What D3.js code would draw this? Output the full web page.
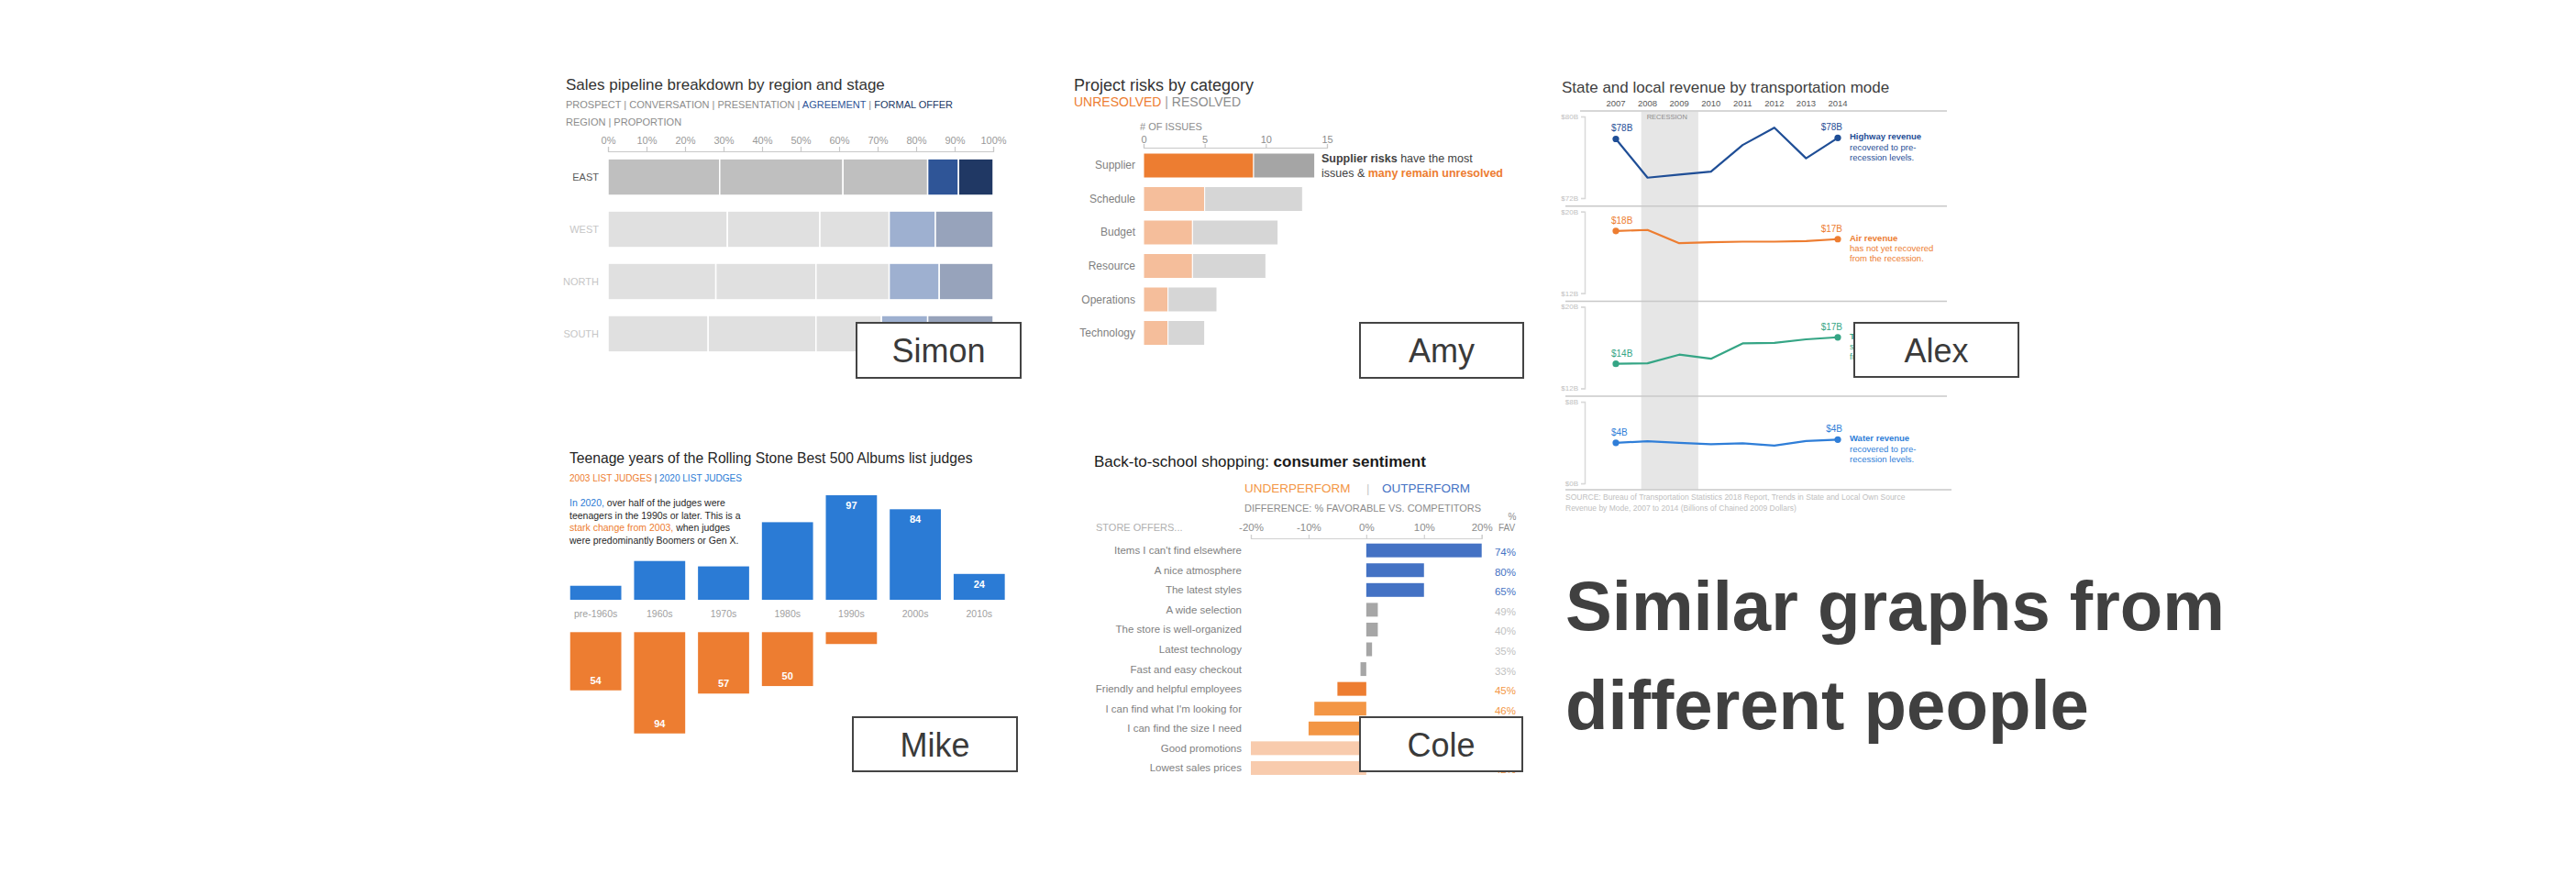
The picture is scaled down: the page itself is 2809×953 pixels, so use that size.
<!DOCTYPE html>
<html lang="en">
<head>
<meta charset="UTF-8">
<title>Similar graphs from different people</title>
<script src="https://d3js.org/d3.v7.min.js"></script>
<style>
  html, body { margin: 0; padding: 0; background: #fff; }
  svg { display: block; }
  text { font-family: "Liberation Sans", Arial, sans-serif; white-space: pre; }
</style>
</head>
<body>
<svg id="chart" width="2809" height="953"></svg>
<script>
// ---- Simon: sales pipeline by region and stage (% of pipeline)
const regions = ['EAST', 'WEST', 'NORTH', 'SOUTH'];
const stages = ['PROSPECT', 'CONVERSATION', 'PRESENTATION', 'AGREEMENT', 'FORMAL OFFER'];
const stageShares = [
  [29, 32, 22, 8, 9],
  [31, 24, 18, 12, 15],
  [28, 26, 19, 13, 14],
  [26, 28, 17, 12, 17]
];
const pctTicks = [0, 10, 20, 30, 40, 50, 60, 70, 80, 90, 100];

// ---- Amy: project risks
const riskCategories = ['Supplier', 'Schedule', 'Budget', 'Resource', 'Operations', 'Technology'];
const unresolved = [9, 5, 4, 4, 2, 2];
const resolved = [5, 8, 7, 6, 4, 3];
const issueTicks = [0, 5, 10, 15];

// ---- Alex: revenue by transportation mode ($B)
const years = [2007, 2008, 2009, 2010, 2011, 2012, 2013, 2014];
const highway = [77.8, 74.0, 74.3, 74.6, 77.2, 78.9, 75.9, 77.9];
const air = [18.1, 18.2, 16.9, 17.0, 17.05, 17.05, 17.1, 17.3];
const transit = [14.4, 14.45, 15.3, 14.9, 16.4, 16.45, 16.8, 17.0];
const water = [3.98, 4.13, 3.98, 3.84, 3.93, 3.71, 4.16, 4.29];
const recession = [2007.8, 2009.6];

// ---- Mike: teenage decade of list judges
const decades = ['pre-1960s', '1960s', '1970s', '1980s', '1990s', '2000s', '2010s'];
const judges2020 = [13, 36, 31, 72, 97, 84, 24];
const judges2003 = [54, 94, 57, 50, 11, 0, 0];
const show2020 = [0, 0, 0, 0, 1, 1, 1];
const show2003 = [1, 1, 1, 1, 0, 0, 0];

// ---- Cole: back-to-school sentiment
const storeOffers = ["Items I can't find elsewhere", 'A nice atmosphere', 'The latest styles',
  'A wide selection', 'The store is well-organized', 'Latest technology', 'Fast and easy checkout',
  'Friendly and helpful employees', "I can find what I'm looking for", 'I can find the size I need',
  'Good promotions', 'Lowest sales prices'];
const favDiff = [20, 10, 10, 2, 2, 1, -1, -5, -9, -10, -20, -20];
const favPct = ['74%', '80%', '65%', '49%', '40%', '35%', '33%', '45%', '46%', '41%', '43%', '42%'];
const favGroup = ['out', 'out', 'out', 'mid', 'mid', 'mid', 'mid', 'under', 'under2', 'under2', 'under3', 'under3'];
const diffTicks = [-20, -10, 0, 10, 20];

const people = ['Simon', 'Amy', 'Alex', 'Mike', 'Cole'];

const svg = d3.select('#chart');

// multi-style text line: parts = [[text, color, weight], ...]
function richText(g, x, y, size, parts) {
  const t = g.append('text').attr('x', x).attr('y', y).attr('font-size', size);
  parts.forEach(p => t.append('tspan').text(p[0]).attr('fill', p[1]).attr('font-weight', p[2] || 'normal'));
  return t;
}

// shrink font-size until the text is no wider than maxW
function fitText(t, maxW) {
  const w = t.node().getComputedTextLength();
  if (w > maxW) {
    const fs = parseFloat(t.attr('font-size'));
    t.attr('font-size', (fs * maxW / w).toFixed(2));
  }
  return t;
}

function styleAxis(g, color, size, lineColor) {
  g.select('.domain').attr('stroke', lineColor).attr('stroke-width', 1.2);
  g.selectAll('.tick line').attr('stroke', lineColor).attr('stroke-width', 1.2);
  g.selectAll('.tick text').attr('fill', color).attr('font-size', size)
    .attr('font-family', '"Liberation Sans", Arial, sans-serif');
}

// ================= Simon =================
(function () {
  const g = svg.append('g');
  g.append('text').attr('x', 617).attr('y', 98).attr('font-size', 17).attr('fill', '#333')
    .text('Sales pipeline breakdown by region and stage');
  const stageColors = ['#8c8c8c', '#8c8c8c', '#8c8c8c', '#2f5597', '#203864'];
  const parts = [];
  stages.forEach((s, i) => {
    if (i > 0) parts.push([' | ', '#8c8c8c']);
    parts.push([s, stageColors[i]]);
  });
  richText(g, 617, 118, 11, parts);
  g.append('text').attr('x', 617).attr('y', 137).attr('font-size', 11).attr('fill', '#8c8c8c')
    .text('REGION | PROPORTION');

  const x = d3.scaleLinear().domain([0, 100]).range([663, 1083]);
  const y = d3.scaleBand().domain(regions).range([156, 401]).paddingInner(0.3).paddingOuter(0.3);

  const ax = g.append('g').attr('transform', 'translate(0,165)')
    .call(d3.axisTop(x).tickValues(pctTicks).tickFormat(d => d + '%').tickSize(5));
  styleAxis(ax, '#999', 11, '#c8c8c8');

  const rows = regions.map((r, i) => {
    const o = { region: r };
    stages.forEach((s, j) => { o[s] = stageShares[i][j]; });
    return o;
  });
  const layers = d3.stack().keys(stages)(rows);
  const hi = ['#bfbfbf', '#bfbfbf', '#bfbfbf', '#2f5597', '#203864'];
  const lo = ['#e0e0e0', '#e0e0e0', '#e0e0e0', '#9eb0d0', '#97a3bb'];
  layers.forEach((layer, li) => {
    g.selectAll(null).data(layer).enter().append('rect')
      .attr('x', d => x(d[0]))
      .attr('y', d => y(d.data.region))
      .attr('width', d => x(d[1]) - x(d[0]))
      .attr('height', y.bandwidth())
      .attr('fill', d => d.data.region === 'EAST' ? hi[li] : lo[li])
      .attr('stroke', '#fff').attr('stroke-width', 1.5);
  });
  g.selectAll(null).data(regions).enter().append('text')
    .attr('x', 653).attr('y', d => y(d) + y.bandwidth() / 2 + 4)
    .attr('text-anchor', 'end').attr('font-size', 11)
    .attr('fill', d => d === 'EAST' ? '#595959' : '#c6c6c6')
    .text(d => d);
})();

// ================= Amy =================
(function () {
  const g = svg.append('g');
  g.append('text').attr('x', 1171).attr('y', 99).attr('font-size', 18).attr('fill', '#333')
    .text('Project risks by category');
  richText(g, 1171, 116, 14, [['UNRESOLVED', '#ed7d31'], [' | ', '#999'], ['RESOLVED', '#8c8c8c']]);
  g.append('text').attr('x', 1243).attr('y', 142).attr('font-size', 11).attr('fill', '#8c8c8c')
    .text('# OF ISSUES');

  const x = d3.scaleLinear().domain([0, 15]).range([1247, 1447]);
  const y = d3.scaleBand().domain(riskCategories).range([157.5, 386]).paddingInner(0.26).paddingOuter(0.26);
  const ax = g.append('g').attr('transform', 'translate(0,161)')
    .call(d3.axisTop(x).tickValues(issueTicks).tickSize(4));
  styleAxis(ax, '#8c8c8c', 11, '#c8c8c8');
  ax.selectAll('.tick text').attr('dy', '0.2em');

  const rows = riskCategories.map((c, i) => ({ cat: c, unresolved: unresolved[i], resolved: resolved[i] }));
  const layers = d3.stack().keys(['unresolved', 'resolved'])(rows);
  const hi = ['#ed7d31', '#a5a5a5'];
  const lo = ['#f5be9b', '#d6d6d6'];
  layers.forEach((layer, li) => {
    g.selectAll(null).data(layer).enter().append('rect')
      .attr('x', d => x(d[0]))
      .attr('y', d => y(d.data.cat))
      .attr('width', d => x(d[1]) - x(d[0]))
      .attr('height', y.bandwidth())
      .attr('fill', d => d.data.cat === 'Supplier' ? hi[li] : lo[li])
      .attr('stroke', '#fff').attr('stroke-width', 1);
  });
  g.selectAll(null).data(riskCategories).enter().append('text')
    .attr('x', 1238).attr('y', d => y(d) + y.bandwidth() / 2 + 4)
    .attr('text-anchor', 'end').attr('font-size', 12).attr('fill', '#7f7f7f')
    .text(d => d);

  richText(g, 1441, 177, 12.5, [['Supplier risks', '#404040', 'bold'], [' have the most', '#404040']]);
  richText(g, 1441, 192.5, 12.5, [['issues & ', '#404040'], ['many remain unresolved', '#ed7d31', 'bold']]);
})();

// ================= Alex =================
(function () {
  const g = svg.append('g');
  g.append('text').attr('x', 1703).attr('y', 101).attr('font-size', 17).attr('fill', '#404040')
    .text('State and local revenue by transportation mode');

  const x = d3.scaleLinear().domain([2007, 2014]).range([1762, 2004]);
  const series = [
    { values: highway, domain: [72, 80], color: '#1f4e96', note: ['Highway revenue', 'recovered to pre-', 'recession levels.'] },
    { values: air, domain: [12, 20], color: '#ed7d31', note: ['Air revenue', 'has not yet recovered', 'from the recession.'] },
    { values: transit, domain: [12, 20], color: '#35a585', note: ['Transit revenue', 'surged after recovering', 'from the recession.'] },
    { values: water, domain: [0, 8], color: '#2f7ed8', note: ['Water revenue', 'recovered to pre-', 'recession levels.'] }
  ];
  const step = 103.7, panelH = 89, top0 = 127;
  const bottom = top0 + 3 * step + panelH;

  g.append('rect').attr('x', x(recession[0])).attr('y', 122)
    .attr('width', x(recession[1]) - x(recession[0])).attr('height', bottom + 7 - 122)
    .attr('fill', '#e6e6e6');
  g.append('text').attr('x', x(recession[0]) + 6).attr('y', 130).attr('font-size', 7.5)
    .attr('fill', '#8c8c8c').text('RECESSION');

  g.selectAll(null).data(years).enter().append('text')
    .attr('x', d => x(d)).attr('y', 116).attr('text-anchor', 'middle')
    .attr('font-size', 9.5).attr('fill', '#595959').text(d => d);

  series.forEach((s, i) => {
    const top = top0 + i * step;
    const y = d3.scaleLinear().domain(s.domain).range([top + panelH, top]);
    g.append('line').attr('x1', i === 0 ? 1723 : 1707).attr('x2', 2123)
      .attr('y1', top - 6).attr('y2', top - 6).attr('stroke', '#c8c8c8').attr('stroke-width', 1.5);
    const ax = g.append('g').attr('transform', 'translate(1728,0)')
      .call(d3.axisLeft(y).tickValues(s.domain).tickSize(4).tickFormat(d => '$' + d + 'B'));
    styleAxis(ax, '#c0c0c0', 8, '#d9d9d9');
    ax.select('.domain').attr('stroke-width', 1.5);

    const pts = years.map((yr, k) => ({ yr, v: s.values[k] }));
    g.append('path').datum(pts)
      .attr('d', d3.line().x(d => x(d.yr)).y(d => y(d.v)))
      .attr('fill', 'none').attr('stroke', s.color).attr('stroke-width', 2.2)
      .attr('stroke-linejoin', 'round');
    const ends = [pts[0], pts[pts.length - 1]];
    g.selectAll(null).data(ends).enter().append('circle')
      .attr('cx', d => x(d.yr)).attr('cy', d => y(d.v)).attr('r', 3.6).attr('fill', s.color);
    g.selectAll(null).data(ends).enter().append('text')
      .attr('x', (d, k) => k === 0 ? x(d.yr) - 5 : x(d.yr) + 5)
      .attr('y', d => y(d.v) - 8)
      .attr('text-anchor', (d, k) => k === 0 ? 'start' : 'end')
      .attr('font-size', 10).attr('fill', s.color)
      .text(d => '$' + Math.round(d.v) + 'B');
    const ny = y(pts[pts.length - 1].v) + 2;
    s.note.forEach((line, k) => {
      g.append('text').attr('x', 2017).attr('y', ny + k * 11.3).attr('font-size', 9.5)
        .attr('fill', s.color).attr('font-weight', k === 0 ? 'bold' : 'normal').text(line);
    });
  });
  g.append('line').attr('x1', 1707).attr('x2', 2128).attr('y1', bottom + 7).attr('y2', bottom + 7)
    .attr('stroke', '#c8c8c8').attr('stroke-width', 1.5);
  g.append('text').attr('x', 1707).attr('y', 545).attr('font-size', 8.5).attr('fill', '#c0c0c0')
    .text('SOURCE: Bureau of Transportation Statistics 2018 Report, Trends in State and Local Own Source');
  g.append('text').attr('x', 1707).attr('y', 557).attr('font-size', 8.5).attr('fill', '#c0c0c0')
    .text('Revenue by Mode, 2007 to 2014 (Billions of Chained 2009 Dollars)');
})();

// ================= Mike =================
(function () {
  const g = svg.append('g');
  const font = '"Noto Sans", "Liberation Sans", sans-serif';
  fitText(g.append('text').attr('x', 621).attr('y', 505).attr('font-size', 17).attr('fill', '#262626')
    .attr('font-family', font).text('Teenage years of the Rolling Stone Best 500 Albums list judges'), 440);
  fitText(richText(g, 621, 525, 11, [['2003 LIST JUDGES', '#ed7d31'], [' | ', '#595959'], ['2020 LIST JUDGES', '#2b7bd5']]), 188);
  const note = [
    [['In 2020,', '#2b7bd5'], [' over half of the judges were', '#262626']],
    [['teenagers in the 1990s or later. This is a', '#262626']],
    [['stark change from 2003,', '#ed7d31'], [' when judges', '#262626']],
    [['were predominantly Boomers or Gen X.', '#262626']]
  ];
  const noteW = [176, 191, 182, 191];
  note.forEach((parts, k) => {
    fitText(richText(g, 621, 552 + k * 13.7, 10.5, parts).attr('font-family', font), noteW[k]);
  });

  const x = d3.scaleBand().domain(decades).range([607.8, 1109.6]).paddingInner(0.2).paddingOuter(0.2);
  const yUp = d3.scaleLinear().domain([0, 100]).range([654, 654 - 117.5]);
  const yDown = d3.scaleLinear().domain([0, 100]).range([689.3, 689.3 + 117.5]);
  const rows = decades.map((d, i) => ({ d, a: judges2020[i], b: judges2003[i], sa: show2020[i], sb: show2003[i] }));

  g.selectAll(null).data(rows).enter().append('rect')
    .attr('x', r => x(r.d)).attr('width', x.bandwidth())
    .attr('y', r => yUp(r.a)).attr('height', r => yUp(0) - yUp(r.a)).attr('fill', '#2b7bd5');
  g.selectAll(null).data(rows.filter(r => r.b > 0)).enter().append('rect')
    .attr('x', r => x(r.d)).attr('width', x.bandwidth())
    .attr('y', yDown(0)).attr('height', r => yDown(r.b) - yDown(0)).attr('fill', '#ed7d31');
  g.selectAll(null).data(rows.filter(r => r.sa)).enter().append('text')
    .attr('x', r => x(r.d) + x.bandwidth() / 2).attr('y', r => yUp(r.a) + 15)
    .attr('text-anchor', 'middle').attr('font-size', 11).attr('font-weight', 'bold')
    .attr('font-family', font).attr('fill', '#fff').text(r => r.a);
  g.selectAll(null).data(rows.filter(r => r.sb)).enter().append('text')
    .attr('x', r => x(r.d) + x.bandwidth() / 2).attr('y', r => yDown(r.b) - 7)
    .attr('text-anchor', 'middle').attr('font-size', 11).attr('font-weight', 'bold')
    .attr('font-family', font).attr('fill', '#fff').text(r => r.b);
  g.selectAll(null).data(decades).enter().append('text')
    .attr('x', d => x(d) + x.bandwidth() / 2).attr('y', 673)
    .attr('text-anchor', 'middle').attr('font-size', 10.5).attr('font-family', font)
    .attr('fill', '#a0a0a0').text(d => d);
})();

// ================= Cole =================
(function () {
  const g = svg.append('g');
  richText(g, 1193, 509, 17, [['Back-to-school shopping: ', '#1a1a1a'], ['consumer sentiment', '#1a1a1a', 'bold']]);
  richText(g, 1357, 537, 13.5, [['UNDERPERFORM', '#f39645']]);
  g.append('text').attr('x', 1490).attr('y', 537).attr('font-size', 13.5).attr('fill', '#c8c8c8').text('|');
  richText(g, 1507, 537, 13.5, [['OUTPERFORM', '#4472c4']]);
  g.append('text').attr('x', 1357).attr('y', 558).attr('font-size', 11).attr('fill', '#8c8c8c')
    .text('DIFFERENCE: % FAVORABLE VS. COMPETITORS');
  g.append('text').attr('x', 1195).attr('y', 579).attr('font-size', 11).attr('fill', '#b0b0b0')
    .text('STORE OFFERS...');
  g.append('text').attr('x', 1649).attr('y', 567).attr('text-anchor', 'middle').attr('font-size', 10).attr('fill', '#8c8c8c').text('%');
  g.append('text').attr('x', 1643).attr('y', 579).attr('text-anchor', 'middle').attr('font-size', 10).attr('fill', '#8c8c8c').text('FAV');

  const x = d3.scaleLinear().domain([-20, 20]).range([1364, 1615.7]);
  const y = d3.scaleBand().domain(storeOffers).range([586.1, 851.5]).paddingInner(0.305).paddingOuter(0.305);
  const ax = g.append('g').attr('transform', 'translate(0,587)')
    .call(d3.axisTop(x).tickValues(diffTicks).tickFormat(d => d + '%').tickSize(4));
  styleAxis(ax, '#8c8c8c', 11.5, '#d0d0d0');
  ax.selectAll('.tick text').attr('dy', '-0.1em');

  const barColor = { out: '#4472c4', mid: '#a6a6a6', under: '#ed7d31', under2: '#f39645', under3: '#f8cbad' };
  const txtColor = { out: '#4472c4', mid: '#bfbfbf', under: '#f39645', under2: '#f39645', under3: '#f39645' };
  const rows = storeOffers.map((s, i) => ({ s, v: favDiff[i], fav: favPct[i], grp: favGroup[i] }));

  g.selectAll(null).data(rows).enter().append('rect')
    .attr('x', r => x(Math.min(0, r.v))).attr('width', r => Math.abs(x(r.v) - x(0)))
    .attr('y', r => y(r.s)).attr('height', y.bandwidth())
    .attr('fill', r => barColor[r.grp]);
  g.selectAll(null).data(rows).enter().append('text')
    .attr('x', 1354).attr('y', r => y(r.s) + y.bandwidth() / 2 + 4)
    .attr('text-anchor', 'end').attr('font-size', 11.5).attr('fill', '#7f7f7f').text(r => r.s);
  g.selectAll(null).data(rows).enter().append('text')
    .attr('x', 1653).attr('y', r => y(r.s) + y.bandwidth() / 2 + 6)
    .attr('text-anchor', 'end').attr('font-size', 11.5).attr('fill', r => txtColor[r.grp]).text(r => r.fav);
})();

// ================= name boxes =================
const boxes = [
  { x: 934, y: 352, w: 179, h: 60 },
  { x: 1483, y: 352, w: 178, h: 60 },
  { x: 2022, y: 352, w: 179, h: 59 },
  { x: 930, y: 782, w: 179, h: 59 },
  { x: 1483, y: 782, w: 177, h: 59 }
];
const nb = svg.append('g').selectAll('g').data(people).enter().append('g')
  .attr('transform', (d, i) => `translate(${boxes[i].x},${boxes[i].y})`);
nb.append('rect').attr('width', (d, i) => boxes[i].w).attr('height', (d, i) => boxes[i].h)
  .attr('fill', '#fff').attr('stroke', '#444').attr('stroke-width', 2);
nb.append('text').attr('x', (d, i) => boxes[i].w / 2).attr('y', (d, i) => boxes[i].h / 2 + 13)
  .attr('text-anchor', 'middle').attr('font-family', 'Lato, sans-serif').attr('font-size', 36)
  .attr('fill', '#3a3a3a').text(d => d);

// ================= headline =================
const head = svg.append('g').attr('font-family', 'Lato, sans-serif').attr('font-weight', 700)
  .attr('fill', '#404040');
const h1 = head.append('text').attr('x', 1707).attr('y', 687).attr('font-size', 84).text('Similar graphs from');
fitText(h1, 719);
head.append('text').attr('x', 1707).attr('y', 795).attr('font-size', h1.attr('font-size')).text('different people');
</script>
</body>
</html>
